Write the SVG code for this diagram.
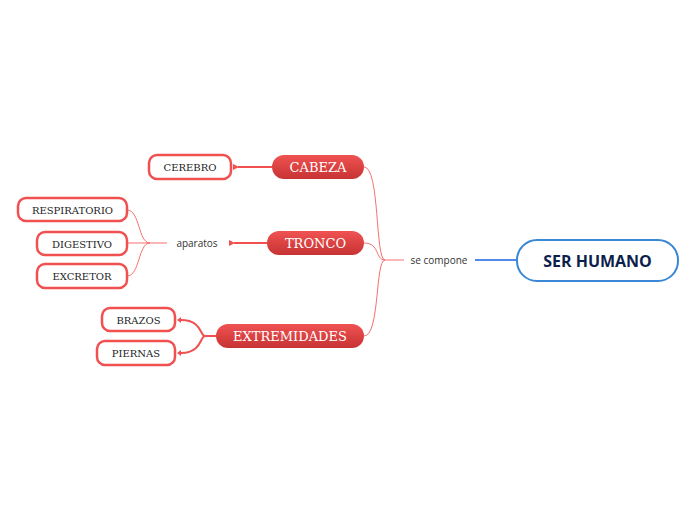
<svg xmlns="http://www.w3.org/2000/svg" width="696" height="520" viewBox="0 0 696 520">
<defs>
<linearGradient id="rg" x1="0" y1="0" x2="0" y2="1"><stop offset="0" stop-color="#f05252"/><stop offset="1" stop-color="#c73333"/></linearGradient>
<marker id="ar" markerUnits="userSpaceOnUse" markerWidth="6" markerHeight="8" refX="1" refY="4" orient="auto"><path d="M6,1 L0,4 L6,7 z" fill="#f05050"/></marker>
<style>
.main{fill:url(#rg);}
.mt{font-family:"DejaVu Serif","Liberation Serif",serif;font-size:13px;fill:#fff;text-anchor:middle;}
.sub{fill:#fff;stroke:#f05050;stroke-width:2.5;}
.st{font-family:"DejaVu Serif","Liberation Serif",serif;font-size:10px;fill:#222;text-anchor:middle;}
.lbl{font-family:"Open Sans","Noto Sans",sans-serif;font-size:10px;fill:#333;text-anchor:middle;}
.c{fill:none;stroke:#f57070;stroke-width:1;}
.cs{fill:none;stroke:#f05050;stroke-width:2;}
</style>
</defs>
<g id="connectors">
<path class="c" d="M364,167 C380,167 375,260 385,260 M364,243 C380,243 375,260 385,260 M364,336 C380,336 375,260 385,260 M385,260 H404"/>
<path d="M475,260 H517" stroke="#1a5fe0" stroke-width="1.5"/>
<path class="cs" d="M272,167 H238" marker-end="url(#ar)"/>
<path class="cs" d="M267,243 H234" marker-end="url(#ar)"/>
<path class="c" d="M167,243 H150 M150,243 C138,243 140,210 127,210 M150,243 C138,243 140,276 127,276 M150,243 H127"/>
<path class="cs" d="M216,336 H205 C200,336 202,320 181,320 M205,336 C200,336 202,353 181,353"/>
<path d="M181,317 L177,320 L181,323 z M181,350 L177,353 L181,356 z" fill="#f05050"/>
</g>
<g id="ser-humano"><rect x="517" y="240" width="161" height="41" rx="20" fill="#fff" stroke="#3a87d6" stroke-width="2"/><text x="597.5" y="267" font-family="'Open Sans','Noto Sans',sans-serif" font-size="16" font-weight="bold" fill="#0d1f4d" text-anchor="middle">SER HUMANO</text></g>
<g id="se-compone"><text class="lbl" x="439" y="264">se compone</text></g>
<g id="cabeza"><rect class="main" x="272" y="155" width="92" height="24" rx="12"/><text class="mt" x="318" y="172">CABEZA</text></g>
<g id="tronco"><rect class="main" x="267" y="231" width="97" height="24" rx="12"/><text class="mt" x="315.5" y="248">TRONCO</text></g>
<g id="extremidades"><rect class="main" x="216" y="324" width="148" height="24" rx="12"/><text class="mt" x="290" y="341">EXTREMIDADES</text></g>
<g id="aparatos"><text class="lbl" x="197" y="247">aparatos</text></g>
<g id="cerebro"><rect class="sub" x="149" y="155" width="82" height="24" rx="8"/><text class="st" x="190" y="171">CEREBRO</text></g>
<g id="respiratorio"><rect class="sub" x="18" y="198" width="109" height="23" rx="8"/><text class="st" x="72.5" y="213.5">RESPIRATORIO</text></g>
<g id="digestivo"><rect class="sub" x="37" y="232" width="90" height="23" rx="8"/><text class="st" x="82" y="247.5">DIGESTIVO</text></g>
<g id="excretor"><rect class="sub" x="37" y="264" width="90" height="24" rx="8"/><text class="st" x="82" y="280">EXCRETOR</text></g>
<g id="brazos"><rect class="sub" x="102" y="308" width="73" height="23" rx="8"/><text class="st" x="138.5" y="323.5">BRAZOS</text></g>
<g id="piernas"><rect class="sub" x="97" y="341" width="78" height="24" rx="8"/><text class="st" x="136" y="357">PIERNAS</text></g>
</svg>
